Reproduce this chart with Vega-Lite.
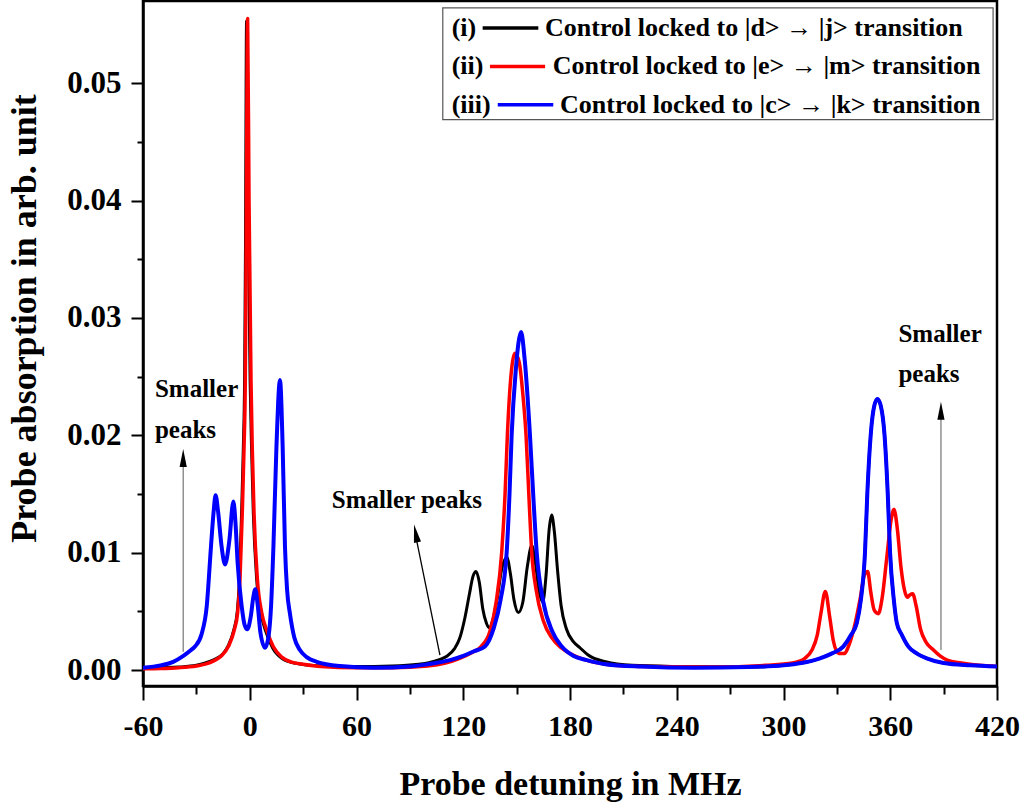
{
  "$schema": "https://vega.github.io/schema/vega-lite/v6.json",
  "width": 854,
  "height": 685,
  "autosize": {"type": "none"},
  "padding": {"left": 143, "top": 1, "right": 23, "bottom": 120},
  "background": "white",
  "config": {
    "view": {"stroke": "#000", "strokeWidth": 2.5},
    "font": "Liberation Serif",
    "text": {"font": "Liberation Serif", "fontWeight": "bold", "color": "#000"}
  },
  "datasets": {
    "curves": [
      {"series": "i", "x": -60, "y": 0.00015}, {"series": "i", "x": -50, "y": 0.0002}, {"series": "i", "x": -40, "y": 0.00025},
      {"series": "i", "x": -30, "y": 0.0004}, {"series": "i", "x": -25, "y": 0.0006}, {"series": "i", "x": -20, "y": 0.0009},
      {"series": "i", "x": -15, "y": 0.0014}, {"series": "i", "x": -12, "y": 0.0021}, {"series": "i", "x": -9, "y": 0.0034},
      {"series": "i", "x": -7, "y": 0.005}, {"series": "i", "x": -5.8, "y": 0.0077}, {"series": "i", "x": -4.6, "y": 0.0134},
      {"series": "i", "x": -3.6, "y": 0.019}, {"series": "i", "x": -2.9, "y": 0.0247}, {"series": "i", "x": -2.4, "y": 0.036},
      {"series": "i", "x": -1.8, "y": 0.0553}, {"series": "i", "x": -1.0, "y": 0.040}, {"series": "i", "x": 0.2, "y": 0.0247},
      {"series": "i", "x": 1.0, "y": 0.019}, {"series": "i", "x": 2.0, "y": 0.0134}, {"series": "i", "x": 3.9, "y": 0.0077},
      {"series": "i", "x": 6.2, "y": 0.0049}, {"series": "i", "x": 9, "y": 0.0033}, {"series": "i", "x": 12.8, "y": 0.0019},
      {"series": "i", "x": 18, "y": 0.001}, {"series": "i", "x": 25, "y": 0.0006}, {"series": "i", "x": 40, "y": 0.00035},
      {"series": "i", "x": 60, "y": 0.0003}, {"series": "i", "x": 80, "y": 0.00035}, {"series": "i", "x": 95, "y": 0.0005},
      {"series": "i", "x": 100, "y": 0.0006}, {"series": "i", "x": 107, "y": 0.0009}, {"series": "i", "x": 111, "y": 0.0012},
      {"series": "i", "x": 115, "y": 0.0018}, {"series": "i", "x": 118, "y": 0.0027}, {"series": "i", "x": 121, "y": 0.0045},
      {"series": "i", "x": 123.5, "y": 0.0065}, {"series": "i", "x": 125.5, "y": 0.008}, {"series": "i", "x": 127.2, "y": 0.0084},
      {"series": "i", "x": 129, "y": 0.0075}, {"series": "i", "x": 131, "y": 0.0052}, {"series": "i", "x": 133, "y": 0.004},
      {"series": "i", "x": 134.6, "y": 0.0036}, {"series": "i", "x": 136.5, "y": 0.0042}, {"series": "i", "x": 139, "y": 0.006},
      {"series": "i", "x": 141.5, "y": 0.0085}, {"series": "i", "x": 144.5, "y": 0.0096}, {"series": "i", "x": 146.5, "y": 0.0082},
      {"series": "i", "x": 148.5, "y": 0.006}, {"series": "i", "x": 151, "y": 0.0049}, {"series": "i", "x": 153.5, "y": 0.0058},
      {"series": "i", "x": 156, "y": 0.0088}, {"series": "i", "x": 158.5, "y": 0.0106}, {"series": "i", "x": 160.5, "y": 0.0092},
      {"series": "i", "x": 162.5, "y": 0.0068}, {"series": "i", "x": 164.7, "y": 0.0058}, {"series": "i", "x": 166.5, "y": 0.008},
      {"series": "i", "x": 168.3, "y": 0.012}, {"series": "i", "x": 169.7, "y": 0.0132}, {"series": "i", "x": 171.2, "y": 0.0118},
      {"series": "i", "x": 173, "y": 0.0085}, {"series": "i", "x": 175, "y": 0.0055}, {"series": "i", "x": 178, "y": 0.0035},
      {"series": "i", "x": 182, "y": 0.0024}, {"series": "i", "x": 185.6, "y": 0.0019}, {"series": "i", "x": 190, "y": 0.0013},
      {"series": "i", "x": 200, "y": 0.0007}, {"series": "i", "x": 215, "y": 0.0004}, {"series": "i", "x": 240, "y": 0.0003},
      {"series": "i", "x": 280, "y": 0.00025}, {"series": "i", "x": 300, "y": 0.0004}, {"series": "i", "x": 310, "y": 0.0006},
      {"series": "i", "x": 320.5, "y": 0.001}, {"series": "i", "x": 327, "y": 0.0014}, {"series": "i", "x": 333.6, "y": 0.002},
      {"series": "i", "x": 338, "y": 0.003}, {"series": "i", "x": 341.2, "y": 0.004}, {"series": "i", "x": 343.5, "y": 0.006},
      {"series": "i", "x": 345.8, "y": 0.01}, {"series": "i", "x": 347.1, "y": 0.015}, {"series": "i", "x": 349, "y": 0.02},
      {"series": "i", "x": 351, "y": 0.0225}, {"series": "i", "x": 352.8, "y": 0.0231}, {"series": "i", "x": 354.7, "y": 0.0225},
      {"series": "i", "x": 356.8, "y": 0.02}, {"series": "i", "x": 358.6, "y": 0.015}, {"series": "i", "x": 359.9, "y": 0.01},
      {"series": "i", "x": 362, "y": 0.006}, {"series": "i", "x": 363.7, "y": 0.004}, {"series": "i", "x": 366.5, "y": 0.003},
      {"series": "i", "x": 370.2, "y": 0.002}, {"series": "i", "x": 375, "y": 0.0014}, {"series": "i", "x": 380.5, "y": 0.001},
      {"series": "i", "x": 390, "y": 0.0006}, {"series": "i", "x": 405, "y": 0.0004}, {"series": "i", "x": 420, "y": 0.0003},

      {"series": "ii", "x": -60, "y": 0.0001}, {"series": "ii", "x": -50, "y": 0.00013}, {"series": "ii", "x": -40, "y": 0.0002},
      {"series": "ii", "x": -30, "y": 0.00035}, {"series": "ii", "x": -25, "y": 0.0005}, {"series": "ii", "x": -20, "y": 0.0008},
      {"series": "ii", "x": -16, "y": 0.0012}, {"series": "ii", "x": -12, "y": 0.002}, {"series": "ii", "x": -8.7, "y": 0.0034},
      {"series": "ii", "x": -6.8, "y": 0.0049}, {"series": "ii", "x": -5.5, "y": 0.0077}, {"series": "ii", "x": -4.2, "y": 0.0134},
      {"series": "ii", "x": -3.2, "y": 0.019}, {"series": "ii", "x": -2.5, "y": 0.0247}, {"series": "ii", "x": -2.0, "y": 0.036},
      {"series": "ii", "x": -1.2, "y": 0.0555}, {"series": "ii", "x": -0.4, "y": 0.040}, {"series": "ii", "x": 0.7, "y": 0.0247},
      {"series": "ii", "x": 1.4, "y": 0.019}, {"series": "ii", "x": 2.4, "y": 0.0134}, {"series": "ii", "x": 4.3, "y": 0.0077},
      {"series": "ii", "x": 6.7, "y": 0.0049}, {"series": "ii", "x": 9.5, "y": 0.0034}, {"series": "ii", "x": 13.2, "y": 0.002},
      {"series": "ii", "x": 18, "y": 0.0011}, {"series": "ii", "x": 23, "y": 0.0007}, {"series": "ii", "x": 30, "y": 0.0005},
      {"series": "ii", "x": 40, "y": 0.0003}, {"series": "ii", "x": 60, "y": 0.0002}, {"series": "ii", "x": 80, "y": 0.0002},
      {"series": "ii", "x": 100, "y": 0.00035}, {"series": "ii", "x": 110, "y": 0.0006}, {"series": "ii", "x": 118, "y": 0.001},
      {"series": "ii", "x": 125, "y": 0.0015}, {"series": "ii", "x": 130, "y": 0.002}, {"series": "ii", "x": 135, "y": 0.0033},
      {"series": "ii", "x": 138.5, "y": 0.0058}, {"series": "ii", "x": 141.6, "y": 0.01}, {"series": "ii", "x": 143.5, "y": 0.015},
      {"series": "ii", "x": 144.8, "y": 0.02}, {"series": "ii", "x": 146.5, "y": 0.0245}, {"series": "ii", "x": 149.1, "y": 0.027},
      {"series": "ii", "x": 151.5, "y": 0.0262}, {"series": "ii", "x": 153.5, "y": 0.0235}, {"series": "ii", "x": 155.3, "y": 0.02},
      {"series": "ii", "x": 157, "y": 0.0145}, {"series": "ii", "x": 158.5, "y": 0.01}, {"series": "ii", "x": 161, "y": 0.0068},
      {"series": "ii", "x": 165, "y": 0.0042}, {"series": "ii", "x": 170, "y": 0.0027}, {"series": "ii", "x": 175, "y": 0.0019},
      {"series": "ii", "x": 180, "y": 0.0014}, {"series": "ii", "x": 190, "y": 0.0008}, {"series": "ii", "x": 200, "y": 0.0005},
      {"series": "ii", "x": 220, "y": 0.0003}, {"series": "ii", "x": 260, "y": 0.00025}, {"series": "ii", "x": 290, "y": 0.0004},
      {"series": "ii", "x": 305, "y": 0.0006}, {"series": "ii", "x": 312, "y": 0.001}, {"series": "ii", "x": 316, "y": 0.0017},
      {"series": "ii", "x": 319, "y": 0.003}, {"series": "ii", "x": 321, "y": 0.0048}, {"series": "ii", "x": 323.5, "y": 0.0067},
      {"series": "ii", "x": 326, "y": 0.0045}, {"series": "ii", "x": 328, "y": 0.0025}, {"series": "ii", "x": 331, "y": 0.0014},
      {"series": "ii", "x": 334, "y": 0.0014}, {"series": "ii", "x": 337, "y": 0.0022}, {"series": "ii", "x": 340, "y": 0.0038},
      {"series": "ii", "x": 343, "y": 0.006}, {"series": "ii", "x": 345.5, "y": 0.0081}, {"series": "ii", "x": 347.3, "y": 0.0084},
      {"series": "ii", "x": 349, "y": 0.0067}, {"series": "ii", "x": 351, "y": 0.0051}, {"series": "ii", "x": 353.3, "y": 0.0048},
      {"series": "ii", "x": 355.5, "y": 0.0062}, {"series": "ii", "x": 358, "y": 0.0095}, {"series": "ii", "x": 360.5, "y": 0.0128},
      {"series": "ii", "x": 362.1, "y": 0.0137}, {"series": "ii", "x": 364, "y": 0.012}, {"series": "ii", "x": 366, "y": 0.0088},
      {"series": "ii", "x": 368, "y": 0.0068}, {"series": "ii", "x": 369.5, "y": 0.0062}, {"series": "ii", "x": 371, "y": 0.0064},
      {"series": "ii", "x": 372.6, "y": 0.0065}, {"series": "ii", "x": 374.5, "y": 0.0055}, {"series": "ii", "x": 377, "y": 0.0035},
      {"series": "ii", "x": 380, "y": 0.0024}, {"series": "ii", "x": 384.3, "y": 0.0017}, {"series": "ii", "x": 388, "y": 0.0012},
      {"series": "ii", "x": 392, "y": 0.00085}, {"series": "ii", "x": 400, "y": 0.0006}, {"series": "ii", "x": 410, "y": 0.0004},
      {"series": "ii", "x": 420, "y": 0.0003},

      {"series": "iii", "x": -60, "y": 0.0002}, {"series": "iii", "x": -50, "y": 0.0004}, {"series": "iii", "x": -43, "y": 0.0007},
      {"series": "iii", "x": -37.3, "y": 0.0012}, {"series": "iii", "x": -33, "y": 0.0017}, {"series": "iii", "x": -30.8, "y": 0.002},
      {"series": "iii", "x": -27, "y": 0.0031}, {"series": "iii", "x": -24.2, "y": 0.0054}, {"series": "iii", "x": -21.8, "y": 0.0105},
      {"series": "iii", "x": -20.3, "y": 0.0135}, {"series": "iii", "x": -19.2, "y": 0.0149}, {"series": "iii", "x": -17.8, "y": 0.0135},
      {"series": "iii", "x": -15.8, "y": 0.0105}, {"series": "iii", "x": -13.9, "y": 0.009}, {"series": "iii", "x": -11.5, "y": 0.011},
      {"series": "iii", "x": -9.2, "y": 0.01435}, {"series": "iii", "x": -8, "y": 0.0125}, {"series": "iii", "x": -6.8, "y": 0.0091},
      {"series": "iii", "x": -4.5, "y": 0.0054}, {"series": "iii", "x": -2.8, "y": 0.0038}, {"series": "iii", "x": -1.4, "y": 0.00347},
      {"series": "iii", "x": 0.5, "y": 0.0045}, {"series": "iii", "x": 2, "y": 0.0062}, {"series": "iii", "x": 3.1, "y": 0.00688},
      {"series": "iii", "x": 4.5, "y": 0.0055}, {"series": "iii", "x": 6, "y": 0.0032}, {"series": "iii", "x": 8.6, "y": 0.0019},
      {"series": "iii", "x": 10.5, "y": 0.0028}, {"series": "iii", "x": 12, "y": 0.0055}, {"series": "iii", "x": 13.3, "y": 0.0105},
      {"series": "iii", "x": 15, "y": 0.019}, {"series": "iii", "x": 17, "y": 0.0247}, {"series": "iii", "x": 18.5, "y": 0.019},
      {"series": "iii", "x": 19.8, "y": 0.0105}, {"series": "iii", "x": 21, "y": 0.0068}, {"series": "iii", "x": 22.6, "y": 0.0048},
      {"series": "iii", "x": 25, "y": 0.0028}, {"series": "iii", "x": 28.2, "y": 0.0017}, {"series": "iii", "x": 32, "y": 0.0011},
      {"series": "iii", "x": 37.6, "y": 0.0007}, {"series": "iii", "x": 50.7, "y": 0.00034}, {"series": "iii", "x": 70, "y": 0.0002},
      {"series": "iii", "x": 90, "y": 0.0003}, {"series": "iii", "x": 100, "y": 0.0005}, {"series": "iii", "x": 112.6, "y": 0.00085},
      {"series": "iii", "x": 120, "y": 0.0012}, {"series": "iii", "x": 126, "y": 0.0016}, {"series": "iii", "x": 132.2, "y": 0.002},
      {"series": "iii", "x": 137, "y": 0.0035}, {"series": "iii", "x": 141, "y": 0.006}, {"series": "iii", "x": 144.4, "y": 0.01},
      {"series": "iii", "x": 146, "y": 0.015}, {"series": "iii", "x": 147.2, "y": 0.02}, {"series": "iii", "x": 149.5, "y": 0.0255},
      {"series": "iii", "x": 152.5, "y": 0.0288}, {"series": "iii", "x": 154.5, "y": 0.0265}, {"series": "iii", "x": 157.5, "y": 0.02},
      {"series": "iii", "x": 159.3, "y": 0.015}, {"series": "iii", "x": 161.3, "y": 0.01}, {"series": "iii", "x": 165, "y": 0.0058},
      {"series": "iii", "x": 170, "y": 0.0033}, {"series": "iii", "x": 175.4, "y": 0.002}, {"series": "iii", "x": 182, "y": 0.0012},
      {"series": "iii", "x": 189.4, "y": 0.00085}, {"series": "iii", "x": 200, "y": 0.0005}, {"series": "iii", "x": 220, "y": 0.0003},
      {"series": "iii", "x": 250, "y": 0.0002}, {"series": "iii", "x": 280, "y": 0.00025}, {"series": "iii", "x": 300, "y": 0.0004},
      {"series": "iii", "x": 310, "y": 0.0006}, {"series": "iii", "x": 320.5, "y": 0.001}, {"series": "iii", "x": 327, "y": 0.0014},
      {"series": "iii", "x": 333.6, "y": 0.002}, {"series": "iii", "x": 338, "y": 0.003}, {"series": "iii", "x": 341.2, "y": 0.004},
      {"series": "iii", "x": 343.5, "y": 0.006}, {"series": "iii", "x": 345.8, "y": 0.01}, {"series": "iii", "x": 347.1, "y": 0.015},
      {"series": "iii", "x": 349, "y": 0.02}, {"series": "iii", "x": 351, "y": 0.0225}, {"series": "iii", "x": 352.8, "y": 0.0231},
      {"series": "iii", "x": 354.7, "y": 0.0225}, {"series": "iii", "x": 356.8, "y": 0.02}, {"series": "iii", "x": 358.6, "y": 0.015},
      {"series": "iii", "x": 359.9, "y": 0.01}, {"series": "iii", "x": 362, "y": 0.006}, {"series": "iii", "x": 363.7, "y": 0.004},
      {"series": "iii", "x": 366.5, "y": 0.003}, {"series": "iii", "x": 370.2, "y": 0.002}, {"series": "iii", "x": 375, "y": 0.0014},
      {"series": "iii", "x": 380.5, "y": 0.001}, {"series": "iii", "x": 390, "y": 0.0006}, {"series": "iii", "x": 405, "y": 0.0004},
      {"series": "iii", "x": 420, "y": 0.0003}
    ],
    "legendBox": [{"x": 108.5, "x2": 417.8, "y": 0.05641, "y2": 0.04689}],
    "legendLines": [
      {"series": "i", "x": 130.9, "x2": 162.2, "y": 0.05471},
      {"series": "ii", "x": 135.0, "x2": 166.0, "y": 0.05143},
      {"series": "iii", "x": 139.4, "x2": 170.6, "y": 0.04817}
    ],
    "legendText": [
      {"text": "(i)", "x": 113.5, "y": 0.05471},
      {"text": "(ii)", "x": 113.5, "y": 0.05143},
      {"text": "(iii)", "x": 113.5, "y": 0.04817},
      {"text": "Control locked to |d> → |j> transition", "x": 166.0, "y": 0.05471},
      {"text": "Control locked to |e> → |m> transition", "x": 170.3, "y": 0.05143},
      {"text": "Control locked to |c> → |k> transition", "x": 174.4, "y": 0.04817}
    ],
    "notes": [
      {"text": "Smaller", "x": -53.3, "y": 0.02328},
      {"text": "peaks", "x": -53.3, "y": 0.01978},
      {"text": "Smaller peaks", "x": 46.1, "y": 0.01381},
      {"text": "Smaller", "x": 364.6, "y": 0.02799},
      {"text": "peaks", "x": 364.6, "y": 0.02458}
    ],
    "arrowShafts": [
      {"kind": "grey", "x": -37.4, "y": 0.00156, "x2": -37.4, "y2": 0.0176},
      {"kind": "black", "x": 106.9, "y": 0.00128, "x2": 93.6, "y2": 0.0112},
      {"kind": "grey", "x": 388.5, "y": 0.0017, "x2": 388.5, "y2": 0.0215}
    ],
    "arrowHeads": [
      {"x": -37.4, "y": 0.01807, "angle": 0},
      {"x": 93.3, "y": 0.01164, "angle": -11},
      {"x": 388.5, "y": 0.0221, "angle": 0}
    ]
  },
  "encoding": {
    "x": {
      "field": "x",
      "type": "quantitative",
      "scale": {"domain": [-60, 420], "nice": false, "zero": false},
      "axis": {
        "title": "Probe detuning in MHz",
        "values": [-60, -30, 0, 30, 60, 90, 120, 150, 180, 210, 240, 270, 300, 330, 360, 390, 420],
        "labelExpr": "datum.value % 60 === 0 ? (datum.value < 0 ? '-' + abs(datum.value) : '' + datum.value) : ''",
        "labelOverlap": false,
        "labelFlush": false,
        "grid": false,
        "domainColor": "#000",
        "domainWidth": 2.5,
        "tickColor": "#000",
        "tickWidth": 2,
        "tickSize": {"condition": {"test": "datum.value % 60 === 0", "value": 14}, "value": 8},
        "labelFont": "Liberation Serif",
        "labelFontWeight": "bold",
        "labelFontSize": 30,
        "labelColor": "#000",
        "labelPadding": 11,
        "titleFont": "Liberation Serif",
        "titleFontWeight": "bold",
        "titleFontSize": 34,
        "titleColor": "#000",
        "titlePadding": 26
      }
    },
    "y": {
      "field": "y",
      "type": "quantitative",
      "scale": {"domain": [-0.00136, 0.0570], "nice": false, "zero": false},
      "axis": {
        "title": "Probe absorption in arb. unit",
        "values": [0, 0.005, 0.01, 0.015, 0.02, 0.025, 0.03, 0.035, 0.04, 0.045, 0.05],
        "labelExpr": "round(datum.value * 1000) % 10 === 0 ? format(datum.value, '.2f') : ''",
        "labelOverlap": false,
        "labelFlush": false,
        "grid": false,
        "domainColor": "#000",
        "domainWidth": 2.5,
        "tickColor": "#000",
        "tickWidth": 2,
        "tickSize": {"condition": {"test": "round(datum.value * 1000) % 10 === 0", "value": 12}, "value": 6},
        "labelFont": "Liberation Serif",
        "labelFontWeight": "bold",
        "labelFontSize": 31,
        "labelColor": "#000",
        "labelPadding": 10,
        "titleFont": "Liberation Serif",
        "titleFontWeight": "bold",
        "titleFontSize": 36,
        "titleColor": "#000",
        "titlePadding": 23,
        "titleY": 317
      }
    }
  },
  "layer": [
    {
      "data": {"name": "curves"},
      "mark": {"type": "line", "interpolate": "monotone", "clip": true, "strokeJoin": "round", "strokeCap": "round"},
      "encoding": {
        "color": {"field": "series", "type": "nominal", "scale": {"domain": ["i", "ii", "iii"], "range": ["#000000", "#ff0000", "#0000ff"]}, "legend": null},
        "strokeWidth": {"field": "series", "type": "nominal", "scale": {"domain": ["i", "ii", "iii"], "range": [3, 4, 4.2]}, "legend": null}
      }
    },
    {
      "data": {"name": "legendBox"},
      "mark": {"type": "rect", "fill": "white", "stroke": "#555555", "strokeWidth": 1.2},
      "encoding": {"x2": {"field": "x2"}, "y2": {"field": "y2"}}
    },
    {
      "data": {"name": "legendLines"},
      "mark": {"type": "rule", "strokeWidth": 3.5},
      "encoding": {
        "x2": {"field": "x2"},
        "color": {"field": "series", "type": "nominal", "legend": null}
      }
    },
    {
      "data": {"name": "legendText"},
      "mark": {"type": "text", "align": "left", "baseline": "middle", "fontSize": 26, "fontWeight": "bold", "font": "Liberation Serif"},
      "encoding": {"text": {"field": "text"}}
    },
    {
      "data": {"name": "notes"},
      "mark": {"type": "text", "align": "left", "baseline": "alphabetic", "fontSize": 25, "fontWeight": "bold", "font": "Liberation Serif"},
      "encoding": {"text": {"field": "text"}}
    },
    {
      "data": {"name": "arrowShafts"},
      "mark": {"type": "rule", "strokeWidth": 1.3},
      "encoding": {
        "x2": {"field": "x2"},
        "y2": {"field": "y2"},
        "color": {"condition": {"test": "datum.kind === 'grey'", "value": "#7f7f7f"}, "value": "#000000"}
      }
    },
    {
      "data": {"name": "arrowHeads"},
      "mark": {"type": "point", "shape": "M0,-1L0.4,1L-0.4,1Z", "filled": true, "size": 324, "color": "#000", "opacity": 1},
      "encoding": {"angle": {"field": "angle", "type": "quantitative", "scale": null}}
    }
  ]
}
